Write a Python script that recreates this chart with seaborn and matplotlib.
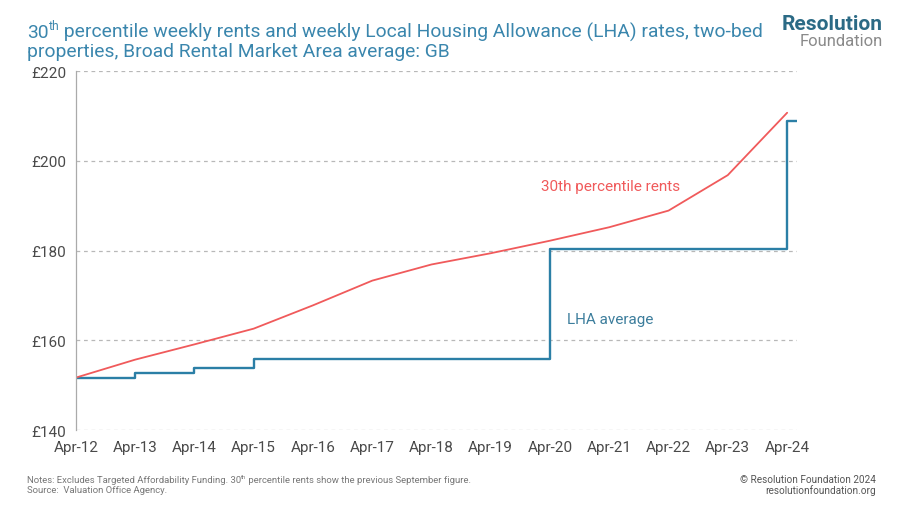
import matplotlib
matplotlib.use("Agg")
import matplotlib.pyplot as plt
import pandas as pd
import seaborn as sb

# %% data
rent_dates = ["2012-04-01", "2013-04-01", "2014-04-01", "2015-04-01", "2016-04-01",
              "2017-04-01", "2018-04-01", "2019-04-01", "2020-04-01", "2021-04-01",
              "2022-04-01", "2023-04-01", "2024-04-01"]
rent_values = [151.7, 155.7, 159.1, 162.6, 167.8, 173.3, 176.9, 179.4, 182.2,
               185.2, 188.9, 196.8, 210.7]

lha_dates = ["2012-04-01", "2013-04-01", "2014-04-01", "2015-04-01", "2020-04-01",
             "2024-04-01", "2024-06-01"]
lha_values = [151.7, 152.7, 153.9, 155.8, 180.4, 208.8, 208.8]

tick_years = list(range(2012, 2025))
y_ticks = [140, 160, 180, 200, 220]

RED = "#f05a5b"
TEAL = "#2b7fa6"
TITLE = "#3a86ad"

# %% style
sb.set_theme(style="white")
plt.rcParams["font.family"] = ["Roboto", "DejaVu Sans"]

rents = pd.DataFrame({"date": pd.to_datetime(rent_dates), "value": rent_values})
lha = pd.DataFrame({"date": pd.to_datetime(lha_dates), "value": lha_values})

fig = plt.figure(figsize=(9, 5.06), dpi=100)
ax = fig.add_axes([0.0844, 0.148, 0.8012, 0.7097])

sb.lineplot(data=lha, x="date", y="value", ax=ax, color=TEAL, lw=1.7,
            drawstyle="steps-post")
sb.lineplot(data=rents, x="date", y="value", ax=ax, color=RED, lw=1.3)

ax.set_xlim(pd.Timestamp("2012-04-01"), pd.Timestamp("2024-06-01"))
ax.set_ylim(140, 220)
ax.set_yticks(y_ticks)
ax.set_yticklabels([f"£{v}" for v in y_ticks])
ax.set_xticks([pd.Timestamp(f"{y}-04-01") for y in tick_years])
ax.set_xticklabels([f"Apr-{y % 100:02d}" for y in tick_years])
ax.set_xlabel("")
ax.set_ylabel("")

ax.grid(axis="y", color="#b8b8b8", ls=(0, (3, 3)), lw=0.9)
for s in ["top", "right", "bottom"]:
    ax.spines[s].set_visible(False)
ax.spines["left"].set_color("#aaaaaa")
ax.spines["left"].set_linewidth(0.9)
ax.tick_params(axis="both", colors="#aaaaaa", labelcolor="#4a4a4a",
               labelsize=11, length=4, width=0.8, direction="out")
ax.tick_params(axis="x", pad=3)
ax.tick_params(axis="y", pad=3)

ax.text(pd.Timestamp("2020-02-08"), 194.3, "30th percentile rents", color=RED,
        fontsize=11, va="center")
ax.text(pd.Timestamp("2020-07-15"), 164.8, "LHA average", color="#3c7d9c",
        fontsize=11, va="center")


# %% titles and footer
def sup_line(x, y, base, sup, rest, size, color):
    # text with a small raised "th" after the first word
    r = fig.canvas.get_renderer()
    t = fig.text(x, y, base, color=color, fontsize=size, va="baseline")
    bb = t.get_window_extent(r)
    x2 = bb.x1 / fig.bbox.width
    t2 = fig.text(x2, y + size * 0.42 / (fig.bbox.height * 72 / fig.dpi), sup,
                  color=color, fontsize=size * 0.62, va="baseline")
    bb2 = t2.get_window_extent(r)
    fig.text(bb2.x1 / fig.bbox.width, y, rest, color=color, fontsize=size,
             va="baseline")


sup_line(0.03, 0.925, "30", "th",
         " percentile weekly rents and weekly Local Housing Allowance (LHA) rates, two-bed",
         13.9, TITLE)
fig.text(0.03, 0.888, "properties, Broad Rental Market Area average: GB",
         color=TITLE, fontsize=13.9, va="baseline")

fig.text(0.981, 0.952, "Resolution", color="#2b6a85", fontsize=15,
         fontweight="bold", ha="right", va="center")
fig.text(0.981, 0.918, "Foundation", color="#8a8a8a", fontsize=12,
         ha="right", va="center")

sup_line(0.03, 0.045, "Notes: Excludes Targeted Affordability Funding. 30", "th",
         " percentile rents show the previous September figure.", 6.8, "#777777")
fig.text(0.03, 0.030, "Source:  Valuation Office Agency.",
         color="#777777", fontsize=6.8, va="center")
fig.text(0.973, 0.052, "© Resolution Foundation 2024", color="#555555",
         fontsize=7.2, ha="right", va="center")
fig.text(0.973, 0.030, "resolutionfoundation.org", color="#555555",
         fontsize=7.2, ha="right", va="center")

fig.savefig("out.png", dpi=100)
